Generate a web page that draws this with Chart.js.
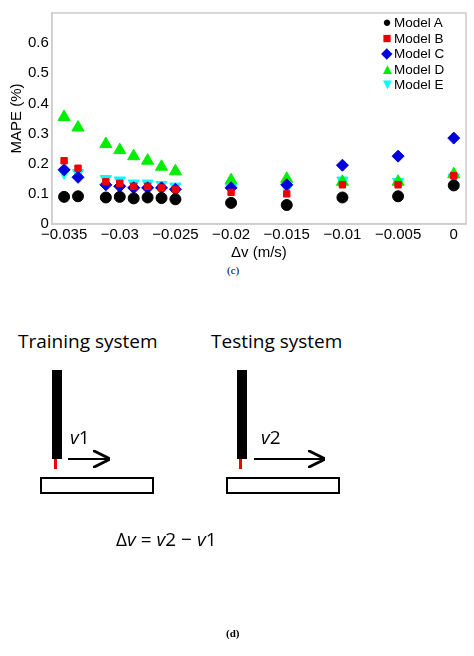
<!DOCTYPE html>
<html><head><meta charset="utf-8">
<script src="https://cdn.jsdelivr.net/npm/chart.js@4/dist/chart.umd.min.js"></script>
<style>
body{margin:0;background:#fff;font-family:"Liberation Sans",Arial,sans-serif;}
#wrap{position:relative;width:474px;height:656px;}
#cw{position:absolute;left:0;top:0;width:474px;height:262px;}
.t{position:absolute;white-space:nowrap;color:#000;}
.lg{position:absolute;left:380px;top:15px;font-size:13.5px;line-height:14.6px;}
.lg span.s{display:inline-block;width:14px;text-align:center;font-size:15px;}
.box{position:absolute;border:2px solid #000;background:#fff;}
</style></head><body>
<div id="wrap">
<div id="cw"><canvas id="c"></canvas></div>
<div class="lg">
<div><span class="s" style="color:#000">●</span>Model A</div>
<div><span class="s" style="color:#e00">■</span>Model B</div>
<div><span class="s" style="color:#00d">◆</span>Model C</div>
<div><span class="s" style="color:#0e0">▲</span>Model D</div>
<div><span class="s" style="color:#0ff">▼</span>Model E</div>
</div>
<div class="t" style="left:227px;top:264px;font-size:11px;font-family:'Liberation Serif',serif">(c)</div>
<div class="t" style="left:18px;top:328px;font-size:19px;font-family:'Open Sans',sans-serif">Training system</div>
<div class="t" style="left:211px;top:328px;font-size:19px;font-family:'Open Sans',sans-serif">Testing system</div>
<div class="box" style="left:52px;top:370px;width:6px;height:85px;background:#000"></div>
<div class="box" style="left:54px;top:459px;width:3px;height:10px;background:#e00;border:none"></div>
<div class="box" style="left:237px;top:370px;width:6px;height:85px;background:#000"></div>
<div class="box" style="left:239px;top:459px;width:3px;height:10px;background:#e00;border:none"></div>
<div class="box" style="left:40px;top:477px;width:110px;height:13px"></div>
<div class="box" style="left:226px;top:477px;width:110px;height:13px"></div>
<svg class="t" style="left:0;top:0" width="474" height="656">
<defs><marker id="ah" markerWidth="8" markerHeight="8" refX="7" refY="4" orient="auto"><path d="M0,0 L8,4 L0,8" fill="none" stroke="#000" stroke-width="1.3"/></marker></defs>
<line x1="68" y1="459" x2="108" y2="459" stroke="#000" stroke-width="2.2" marker-end="url(#ah)"/>
<line x1="254" y1="459" x2="323" y2="459" stroke="#000" stroke-width="2.2" marker-end="url(#ah)"/>
</svg>
<div class="t" style="left:70px;top:424px;font-size:19px;font-family:'Open Sans',sans-serif"><i>v</i>1</div>
<div class="t" style="left:261px;top:424px;font-size:19px;font-family:'Open Sans',sans-serif"><i>v</i>2</div>
<div class="t" style="left:116px;top:526px;font-size:19px;font-family:'Open Sans',sans-serif">Δ<i>v</i> = <i>v</i>2 − <i>v</i>1</div>
<div class="t" style="left:226px;top:627px;font-size:11px;font-family:'Liberation Serif',serif;font-weight:bold">(d)</div>
</div>
<script>
const xs=[-0.035,-0.03375,-0.03125,-0.03,-0.02875,-0.0275,-0.02625,-0.025,-0.02,-0.015,-0.01,-0.005,0];
const modelA=[0.09,0.092,0.088,0.09,0.085,0.088,0.086,0.082,0.07,0.063,0.088,0.092,0.128];
const modelB=[0.21,0.185,0.14,0.135,0.125,0.125,0.12,0.115,0.105,0.10,0.13,0.13,0.16];
const modelC=[0.18,0.155,0.13,0.125,0.12,0.12,0.12,0.115,0.12,0.13,0.195,0.225,0.285];
const modelD=[0.355,0.32,0.265,0.245,0.225,0.21,0.19,0.175,0.145,0.15,0.14,0.14,0.165];
const modelE=[0.17,0.17,0.15,0.145,0.135,0.135,0.13,0.125,0.12,0.12,0.145,0.14,0.155];
const xTicks=[-0.035,-0.03,-0.025,-0.02,-0.015,-0.01,-0.005,0];
const yTicks=[0,0.1,0.2,0.3,0.4,0.5,0.6];
const pts=a=>a.map((v,i)=>({x:xs[i],y:v}));
const ds=(l,d,c,st,r,rot)=>({label:l,data:pts(d),backgroundColor:c,borderColor:c,pointStyle:st,pointRadius:r,rotation:rot||0,showLine:false});
new Chart(document.getElementById('c'),{type:'scatter',
data:{datasets:[ds('Model A',modelA,'#000','circle',5.5),ds('Model B',modelB,'#ee0000','rect',4.5),ds('Model C',modelC,'#0000dd','rectRot',6),ds('Model D',modelD,'#00ee00','triangle',7),ds('Model E',modelE,'#00ffff','triangle',6.5,180)]},
options:{responsive:true,maintainAspectRatio:false,animation:false,
layout:{padding:{top:13,right:6,left:4,bottom:0}},
plugins:{legend:{display:false},tooltip:{enabled:false}},
scales:{
x:{type:'linear',min:-0.0361,max:0.0011,afterBuildTicks:a=>{a.ticks=xTicks.map(v=>({value:v}));},
grid:{display:false,drawTicks:true,tickLength:2},border:{color:'#ccc',width:1.5},
ticks:{color:'#000',font:{size:15,family:'Liberation Sans'},maxRotation:0,padding:0,callback:v=>v===0?'0':'\u2212'+String(Math.abs(v))},
title:{display:true,text:'\u0394v (m/s)',color:'#000',font:{size:15,family:'Liberation Sans'},padding:{top:0,bottom:0}}},
y:{min:0,max:0.7,afterBuildTicks:a=>{a.ticks=yTicks.map(v=>({value:v}));},
grid:{display:false,tickLength:2},border:{color:'#ccc',width:1.5},
ticks:{color:'#000',font:{size:15,family:'Liberation Sans'},padding:1,callback:v=>String(v)},
title:{display:true,text:'MAPE (%)',color:'#000',font:{size:15,family:'Liberation Sans'},padding:{bottom:1}}}
}},
plugins:[{id:'frame',afterDraw(c){const a=c.chartArea,x=c.ctx;x.save();x.strokeStyle='#ccc';x.lineWidth=1.5;x.strokeRect(a.left,a.top,a.right-a.left,a.bottom-a.top);x.restore();}}]
});
</script>
</body></html>
